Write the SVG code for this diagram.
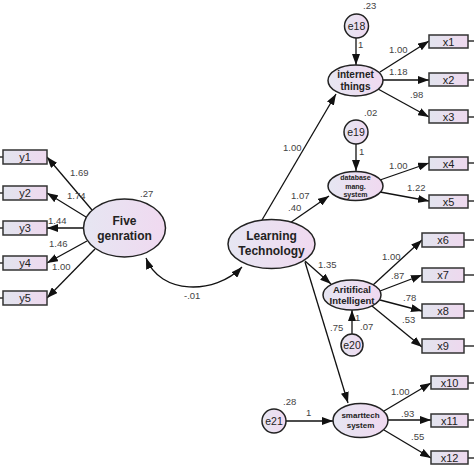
<svg xmlns="http://www.w3.org/2000/svg" width="474" height="474" viewBox="0 0 474 474">
<defs>
<linearGradient id="gE" x1="0" y1="0" x2="1" y2="0"><stop offset="0" stop-color="#e6e6f2"/><stop offset="1" stop-color="#f0d9f0"/></linearGradient>
<linearGradient id="gB" x1="0" y1="0" x2="1" y2="0"><stop offset="0" stop-color="#e2e4ee"/><stop offset="1" stop-color="#eed8ee"/></linearGradient>
<marker id="ah" markerUnits="userSpaceOnUse" markerWidth="11" markerHeight="8" refX="11" refY="4" orient="auto-start-reverse"><path d="M0,0 L11,4 L0,8 z" fill="#111"/></marker>
<style>
.lat{fill:url(#gE);stroke:#222;stroke-width:1.5}
.box{fill:url(#gB);stroke:#333;stroke-width:1.5}
.c{fill:none;stroke:#111;stroke-width:1.3}
.a{fill:none;stroke:#111;stroke-width:1.3;marker-end:url(#ah)}
.t{font-family:"Liberation Sans",Arial,sans-serif;fill:#222;text-anchor:middle}
.n{font-family:"Liberation Sans",Arial,sans-serif;fill:#444;font-size:9.5px}
.b{font-weight:bold}
</style>
</defs>
<g id="connectors">
<line class="a" x1="92" y1="210" x2="47" y2="157"/>
<line class="a" x1="86" y1="217" x2="47" y2="193"/>
<line class="a" x1="83" y1="228" x2="47" y2="228"/>
<line class="a" x1="87" y1="241" x2="47" y2="263"/>
<line class="a" x1="95" y1="249" x2="47" y2="298"/>
<path class="a" style="marker-start:url(#ah)" d="M146,258 C160,295 215,295 242,267"/>
<line class="a" x1="262" y1="220" x2="336" y2="94"/>
<line class="a" x1="287" y1="225" x2="329" y2="196"/>
<line class="a" x1="305" y1="261" x2="331" y2="284"/>
<line class="a" x1="305" y1="262" x2="348" y2="403"/>
<line class="a" x1="356" y1="38" x2="356" y2="65"/>
<line class="a" x1="380" y1="72" x2="429" y2="41"/>
<line class="a" x1="383" y1="80" x2="429" y2="80"/>
<line class="a" x1="378" y1="89" x2="429" y2="117"/>
<line class="a" x1="356" y1="144" x2="356" y2="171"/>
<line class="a" x1="380" y1="180" x2="429" y2="163"/>
<line class="a" x1="380" y1="192" x2="429" y2="201"/>
<line class="a" x1="352" y1="334" x2="352" y2="310"/>
<line class="a" x1="373" y1="285" x2="422" y2="240"/>
<line class="a" x1="380" y1="291" x2="422" y2="275"/>
<line class="a" x1="380" y1="300" x2="422" y2="311"/>
<line class="a" x1="372" y1="306" x2="422" y2="347"/>
<line class="a" x1="286" y1="421" x2="333" y2="421"/>
<line class="a" x1="384" y1="411" x2="431" y2="383"/>
<line class="a" x1="388" y1="420" x2="431" y2="420"/>
<line class="a" x1="384" y1="430" x2="431" y2="458"/>
<line class="c" x1="0" y1="157" x2="3" y2="157"/>
<line class="c" x1="0" y1="193" x2="3" y2="193"/>
<line class="c" x1="0" y1="228" x2="3" y2="228"/>
<line class="c" x1="0" y1="263" x2="3" y2="263"/>
<line class="c" x1="0" y1="298" x2="3" y2="298"/>
<line class="c" x1="468" y1="41" x2="474" y2="41"/>
<line class="c" x1="468" y1="80" x2="474" y2="80"/>
<line class="c" x1="468" y1="117" x2="474" y2="117"/>
<line class="c" x1="468" y1="163" x2="474" y2="163"/>
<line class="c" x1="468" y1="201" x2="474" y2="201"/>
<line class="c" x1="464" y1="240" x2="474" y2="240"/>
<line class="c" x1="464" y1="275" x2="474" y2="275"/>
<line class="c" x1="464" y1="311" x2="474" y2="311"/>
<line class="c" x1="464" y1="346" x2="474" y2="346"/>
<line class="c" x1="468" y1="383" x2="474" y2="383"/>
<line class="c" x1="468" y1="420" x2="474" y2="420"/>
<line class="c" x1="468" y1="458" x2="474" y2="458"/>
</g>
<g id="labels">
<text class="n" x="70" y="176">1.69</text>
<text class="n" x="67" y="199">1.74</text>
<text class="n" x="48" y="224">1.44</text>
<text class="n" x="49" y="247">1.46</text>
<text class="n" x="52" y="270">1.00</text>
<text class="n" x="140" y="197">.27</text>
<text class="n" x="184" y="299">-.01</text>
<text class="n" x="283" y="151">1.00</text>
<text class="n" x="291" y="199">1.07</text>
<text class="n" x="288" y="211">.40</text>
<text class="n" x="318" y="268">1.35</text>
<text class="n" x="330" y="331">.75</text>
<text class="n" x="363" y="9">.23</text>
<text class="n" x="358" y="48">1</text>
<text class="n" x="389" y="53">1.00</text>
<text class="n" x="389" y="75">1.18</text>
<text class="n" x="410" y="98">.98</text>
<text class="n" x="364" y="116">.02</text>
<text class="n" x="359" y="155">1</text>
<text class="n" x="389" y="169">1.00</text>
<text class="n" x="407" y="191">1.22</text>
<text class="n" x="382" y="260">1.00</text>
<text class="n" x="391" y="279">.87</text>
<text class="n" x="403" y="301">.78</text>
<text class="n" x="402" y="323">.53</text>
<text class="n" x="355" y="321">1</text>
<text class="n" x="360" y="330">.07</text>
<text class="n" x="283" y="405">.28</text>
<text class="n" x="306" y="416">1</text>
<text class="n" x="391" y="395">1.00</text>
<text class="n" x="401" y="417">.93</text>
<text class="n" x="411" y="440">.55</text>
</g>
<g id="y1"><rect class="box" x="3" y="150" width="44" height="14"/><text class="t" x="25" y="161" font-size="11">y1</text></g>
<g id="y2"><rect class="box" x="3" y="186" width="44" height="14"/><text class="t" x="25" y="197" font-size="11">y2</text></g>
<g id="y3"><rect class="box" x="3" y="221" width="44" height="14"/><text class="t" x="25" y="232" font-size="11">y3</text></g>
<g id="y4"><rect class="box" x="3" y="256" width="44" height="14"/><text class="t" x="25" y="267" font-size="11">y4</text></g>
<g id="y5"><rect class="box" x="3" y="291" width="44" height="14"/><text class="t" x="25" y="302" font-size="11">y5</text></g>
<g id="five"><ellipse class="lat" cx="124.5" cy="228" rx="41" ry="29"/><text class="t b" font-size="12" x="124.5" y="225">Five</text><text class="t b" font-size="12" x="124.5" y="240">genration</text></g>
<g id="lt"><ellipse class="lat" cx="271.5" cy="244" rx="43.5" ry="24.5"/><text class="t b" font-size="12" x="271.5" y="240">Learning</text><text class="t b" font-size="12" x="271.5" y="255">Technology</text></g>
<g id="e18"><circle class="lat" cx="356.5" cy="26" r="12"/><text class="t" font-size="10.5" x="356.5" y="30">e18</text></g>
<g id="it"><ellipse class="lat" cx="355.5" cy="80.5" rx="27.5" ry="15.5"/><text class="t b" font-size="10" x="355.5" y="78">internet</text><text class="t b" font-size="10" x="355.5" y="90">things</text></g>
<g id="x1"><rect class="box" x="429" y="35" width="39" height="13"/><text class="t" x="448.5" y="45.5" font-size="11">x1</text></g>
<g id="x2"><rect class="box" x="429" y="73" width="39" height="13"/><text class="t" x="448.5" y="83.5" font-size="11">x2</text></g>
<g id="x3"><rect class="box" x="429" y="110" width="39" height="13"/><text class="t" x="448.5" y="120.5" font-size="11">x3</text></g>
<g id="e19"><circle class="lat" cx="356" cy="132" r="12"/><text class="t" font-size="10.5" x="356" y="136">e19</text></g>
<g id="db"><ellipse class="lat" cx="355.5" cy="186" rx="27.5" ry="14.5"/><text class="t b" font-size="7" x="355.5" y="180">database</text><text class="t b" font-size="7" x="355.5" y="188.5">mang.</text><text class="t b" font-size="7" x="355.5" y="197">system</text></g>
<g id="x4"><rect class="box" x="429" y="157" width="39" height="13"/><text class="t" x="448.5" y="167.5" font-size="11">x4</text></g>
<g id="x5"><rect class="box" x="429" y="195" width="39" height="13"/><text class="t" x="448.5" y="205.5" font-size="11">x5</text></g>
<g id="ai"><ellipse class="lat" cx="352" cy="295" rx="29" ry="15"/><text class="t b" font-size="9.5" x="352" y="293">Aritifical</text><text class="t b" font-size="9.5" x="352" y="304">Intelligent</text></g>
<g id="e20"><circle class="lat" cx="352" cy="345" r="11"/><text class="t" font-size="10.5" x="352" y="349">e20</text></g>
<g id="x6"><rect class="box" x="422" y="233" width="42" height="14"/><text class="t" x="443" y="244" font-size="11">x6</text></g>
<g id="x7"><rect class="box" x="422" y="268" width="42" height="14"/><text class="t" x="443" y="279" font-size="11">x7</text></g>
<g id="x8"><rect class="box" x="422" y="304" width="42" height="14"/><text class="t" x="443" y="315" font-size="11">x8</text></g>
<g id="x9"><rect class="box" x="422" y="339" width="42" height="14"/><text class="t" x="443" y="350" font-size="11">x9</text></g>
<g id="e21"><circle class="lat" cx="274" cy="421" r="12"/><text class="t" font-size="10.5" x="274" y="425">e21</text></g>
<g id="st"><ellipse class="lat" cx="360.5" cy="420.5" rx="27.5" ry="17"/><text class="t b" font-size="8" x="360.5" y="418">smarttech</text><text class="t b" font-size="8" x="360.5" y="428">system</text></g>
<g id="x10"><rect class="box" x="431" y="376" width="37" height="13"/><text class="t" x="449.5" y="386.5" font-size="11">x10</text></g>
<g id="x11"><rect class="box" x="431" y="414" width="37" height="13"/><text class="t" x="449.5" y="424.5" font-size="11">x11</text></g>
<g id="x12"><rect class="box" x="431" y="451" width="37" height="13"/><text class="t" x="449.5" y="461.5" font-size="11">x12</text></g>
</svg>
